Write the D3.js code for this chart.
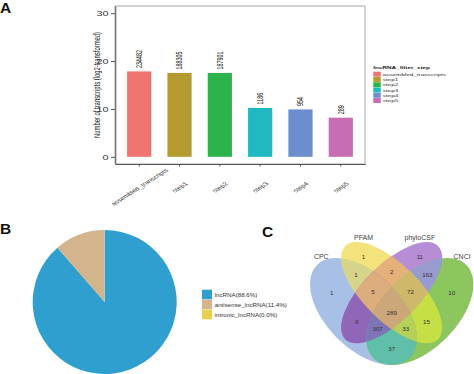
<!DOCTYPE html>
<html>
<head>
<meta charset="UTF-8">
<title>lncRNA filter / class / coding potential</title>
<style>
body{margin:0;background:#fff;}
svg{display:block;font-family:"Liberation Sans",Arial,Helvetica,sans-serif;}
</style>
</head>
<body>
<div id="chart"></div>
<script src="https://cdn.jsdelivr.net/npm/d3@7"></script>
<script>
// panel A data
var steps = ["assembled_transcripts","step1","step2","step3","step4","step5"];
var counts = [234482,188305,187901,1186,954,289];
var yTicks = [0,10,20,30];
// panel B data
var pieLabels = ["lncRNA","antisense_lncRNA","intronic_lncRNA"];
var pieShares = [88.6,11.4,0.0];
// panel C data (region key = membership in CPC,PFAM,phyloCSF,CNCI)
var vennSets = ["CPC","PFAM","phyloCSF","CNCI"];
var vennKeys = ["1000","0100","0010","0001","1100","0110","0011","1010","0101","1001","1110","0111","1011","1101","1111"];
var vennCounts = [1,1,11,10,1,2,163,6,15,37,5,72,307,33,289];

var width = 474, height = 374;
var barColors = ["#ef7571","#b59b2f","#2cb34c","#20b9c1","#6b8fce","#c86cb4"];
var pieColors = ["#2f9fcf","#d3b48d","#e8d04c"];

var svg = d3.select("#chart").append("svg")
	.attr("width",width)
	.attr("height",height);

//---------------- panel A ----------------
// the bar panel is stretched horizontally in the figure
var sx = 1.55;
var A = svg.append("g").attr("transform","scale("+sx+",1)");
var x = d3.scaleBand().domain(steps).range([115/sx,365/sx]).paddingInner(0.4).paddingOuter(0.3);
var y = d3.scaleLinear().domain([-1.5,31.5]).range([164,6]);

A.append("rect")
	.attr("x",115/sx).attr("y",6)
	.attr("width",250/sx).attr("height",158)
	.attr("fill","none").attr("stroke","#a8a8a8")
	.attr("vector-effect","non-scaling-stroke");

A.selectAll("rect.bar")
	.data(steps)
	.enter().append("rect")
	.attr("class","bar")
	.attr("x",function(d){return x(d);})
	.attr("width",x.bandwidth())
	.attr("y",function(d,i){return y(Math.log2(counts[i]));})
	.attr("height",function(d,i){return y(0)-y(Math.log2(counts[i]));})
	.attr("fill",function(d,i){return barColors[i];});

var yAxis = A.append("g")
	.attr("transform","translate("+(115/sx)+",0)")
	.call(d3.axisLeft(y).tickValues(yTicks).tickSize(2.6).tickSizeOuter(0).tickPadding(1.6));
var xAxis = A.append("g")
	.attr("transform","translate(0,164)")
	.call(d3.axisBottom(x).tickSize(2.5).tickSizeOuter(0).tickFormat(""));
[yAxis,xAxis].forEach(function(ax){
	ax.selectAll("path,line").attr("stroke","#555").attr("vector-effect","non-scaling-stroke");
	ax.selectAll("text").attr("fill","#333").style("font-size","7px");
});

// rotated category labels
A.selectAll("text.xlab")
	.data(steps)
	.enter().append("text")
	.attr("class","xlab")
	.attr("transform",function(d){return "translate("+(x(d)+x.bandwidth()/2)+",187) rotate(-45)";})
	.attr("text-anchor","middle")
	.attr("dominant-baseline","central")
	.style("font-size","5px")
	.attr("fill","#333")
	.text(function(d){return d;});

// count labels above bars
A.selectAll("text.vlab")
	.data(counts)
	.enter().append("text")
	.attr("class","vlab")
	.attr("transform",function(d,i){return "translate("+(x(steps[i])+x.bandwidth()/2)+","+(y(Math.log2(d))-3.5)+") rotate(-90)";})
	.attr("dy","0.35em")
	.style("font-size","5.4px")
	.attr("fill","#222")
	.text(function(d){return d;});

A.append("text")
	.attr("transform","translate("+(96.7/sx)+",85) rotate(-90)")
	.attr("text-anchor","middle")
	.attr("dominant-baseline","central")
	.attr("textLength",106)
	.attr("lengthAdjust","spacingAndGlyphs")
	.style("font-size","5.8px")
	.attr("fill","#222")
	.text("Number of transcripts (log2-transformed)");

// legend A
var legA = A.append("g").attr("transform","translate("+(373.3/sx)+",71.7)");
legA.append("text")
	.attr("y",-2.4)
	.style("font-size","4.1px").style("font-weight","bold")
	.attr("fill","#222")
	.text("lncRNA_filter_step");
legA.selectAll("rect")
	.data(steps)
	.enter().append("rect")
	.attr("y",function(d,i){return i*5.27;})
	.attr("width",7.4/sx).attr("height",5.0)
	.attr("fill",function(d,i){return barColors[i];});
legA.selectAll("text.lab")
	.data(steps)
	.enter().append("text")
	.attr("class","lab")
	.attr("x",9.4/sx)
	.attr("y",function(d,i){return i*5.27+2.6;})
	.attr("dominant-baseline","central")
	.style("font-size","4.1px")
	.attr("fill","#333")
	.text(function(d){return d;});

//---------------- panel B ----------------
var pie = d3.pie().sort(null).value(function(d){return d;});
var arc = d3.arc().innerRadius(0).outerRadius(72);
var B = svg.append("g").attr("transform","translate(104.7,302)");
B.selectAll("path")
	.data(pie(pieShares))
	.enter().append("path")
	.attr("d",arc)
	.attr("fill",function(d,i){return pieColors[i];});

var legB = svg.append("g").attr("transform","translate(202,289.7)");
legB.selectAll("rect")
	.data(pieLabels)
	.enter().append("rect")
	.attr("y",function(d,i){return i*10;})
	.attr("width",10).attr("height",9.6)
	.attr("fill",function(d,i){return pieColors[i];});
legB.selectAll("text")
	.data(pieLabels)
	.enter().append("text")
	.attr("x",12.7)
	.attr("y",function(d,i){return i*10+5;})
	.attr("dominant-baseline","central")
	.style("font-size","6.2px")
	.attr("fill","#333")
	.text(function(d,i){return d+"("+pieShares[i].toFixed(1)+"%)";});

//---------------- panel C ----------------
var s = 187.8;
var u = d3.scaleLinear().domain([0,1]).range([391.7-s/2,391.7+s/2]);
var v = d3.scaleLinear().domain([0,1]).range([399.7,399.7-s]);
// ellipse layout in unit square
var shapes = [
	{cx:0.35,cy:0.47,a:0.35,b:0.20,rot:45},
	{cx:0.50,cy:0.57,a:0.35,b:0.15,rot:45},
	{cx:0.50,cy:0.57,a:0.35,b:0.15,rot:-45},
	{cx:0.65,cy:0.47,a:0.35,b:0.20,rot:-45}
];
var regionColors = {
	"1000":"#a9c0e6","0100":"#f4e37c","0010":"#b78dd5","0001":"#8dc55f",
	"1100":"#d6d38b","0110":"#e6b07b","0011":"#989bd0","1010":"#9066b8",
	"0101":"#c6df45","1001":"#5fbfa8","1110":"#dcad7d","0111":"#cdb86b",
	"1011":"#7e74b6","1101":"#b6d05a","1111":"#cba77a"
};
var labelPos = {
	"1000":[0.18,0.57],"0100":[0.35,0.762],"0010":[0.65,0.762],"0001":[0.82,0.57],
	"1100":[0.31,0.665],"0110":[0.5,0.685],"0011":[0.69,0.665],
	"1110":[0.40,0.575],"0111":[0.60,0.575],"1111":[0.5,0.463],
	"1010":[0.315,0.415],"0101":[0.685,0.415],"1011":[0.425,0.38],
	"1101":[0.575,0.38],"1001":[0.5,0.275]
};
var setLabelPos = [[0.125,0.765],[0.35,0.866],[0.65,0.866],[0.875,0.765]];

var defs = svg.append("defs");
shapes.forEach(function(e,i){
	defs.append("clipPath").attr("id","vc"+i)
		.append("ellipse")
		.attr("cx",u(e.cx)).attr("cy",v(e.cy))
		.attr("rx",e.a*s).attr("ry",e.b*s)
		.attr("transform","rotate("+e.rot+","+u(e.cx)+","+v(e.cy)+")");
});

var C = svg.append("g");
// paint intersections from lowest to highest order so that each exact region ends up with its own colour
var order = vennKeys.slice().sort(function(p,q){
	return p.split("1").length-q.split("1").length;
});
order.forEach(function(k){
	var g = C;
	for(var i=0;i<4;i++){
		if(k[i]=="1"){
			g = g.append("g").attr("clip-path","url(#vc"+i+")");
		}
	}
	g.append("rect")
		.attr("x",u(0)).attr("y",v(1))
		.attr("width",s).attr("height",s)
		.attr("fill",regionColors[k]);
});

C.selectAll("text.count")
	.data(vennKeys)
	.enter().append("text")
	.attr("class","count")
	.attr("x",function(k){return u(labelPos[k][0]);})
	.attr("y",function(k){return v(labelPos[k][1]);})
	.attr("text-anchor","middle")
	.attr("dominant-baseline","central")
	.style("font-size","6.2px")
	.attr("fill","#333")
	.text(function(k,i){return vennCounts[i];});

C.selectAll("text.set")
	.data(vennSets)
	.enter().append("text")
	.attr("class","set")
	.attr("x",function(d,i){return u(setLabelPos[i][0]);})
	.attr("y",function(d,i){return v(setLabelPos[i][1]);})
	.attr("text-anchor","middle")
	.attr("dominant-baseline","central")
	.style("font-size","7px")
	.attr("fill","#444")
	.text(function(d){return d;});

//---------------- panel letters ----------------
var letters = [["A",0,13],["B",0,234],["C",262,237]];
svg.selectAll("text.letter")
	.data(letters)
	.enter().append("text")
	.attr("class","letter")
	.attr("x",function(d){return d[1];})
	.attr("y",function(d){return d[2];})
	.style("font-size","15.5px").style("font-weight","bold")
	.attr("fill","#111")
	.text(function(d){return d[0];});
</script>
</body>
</html>
